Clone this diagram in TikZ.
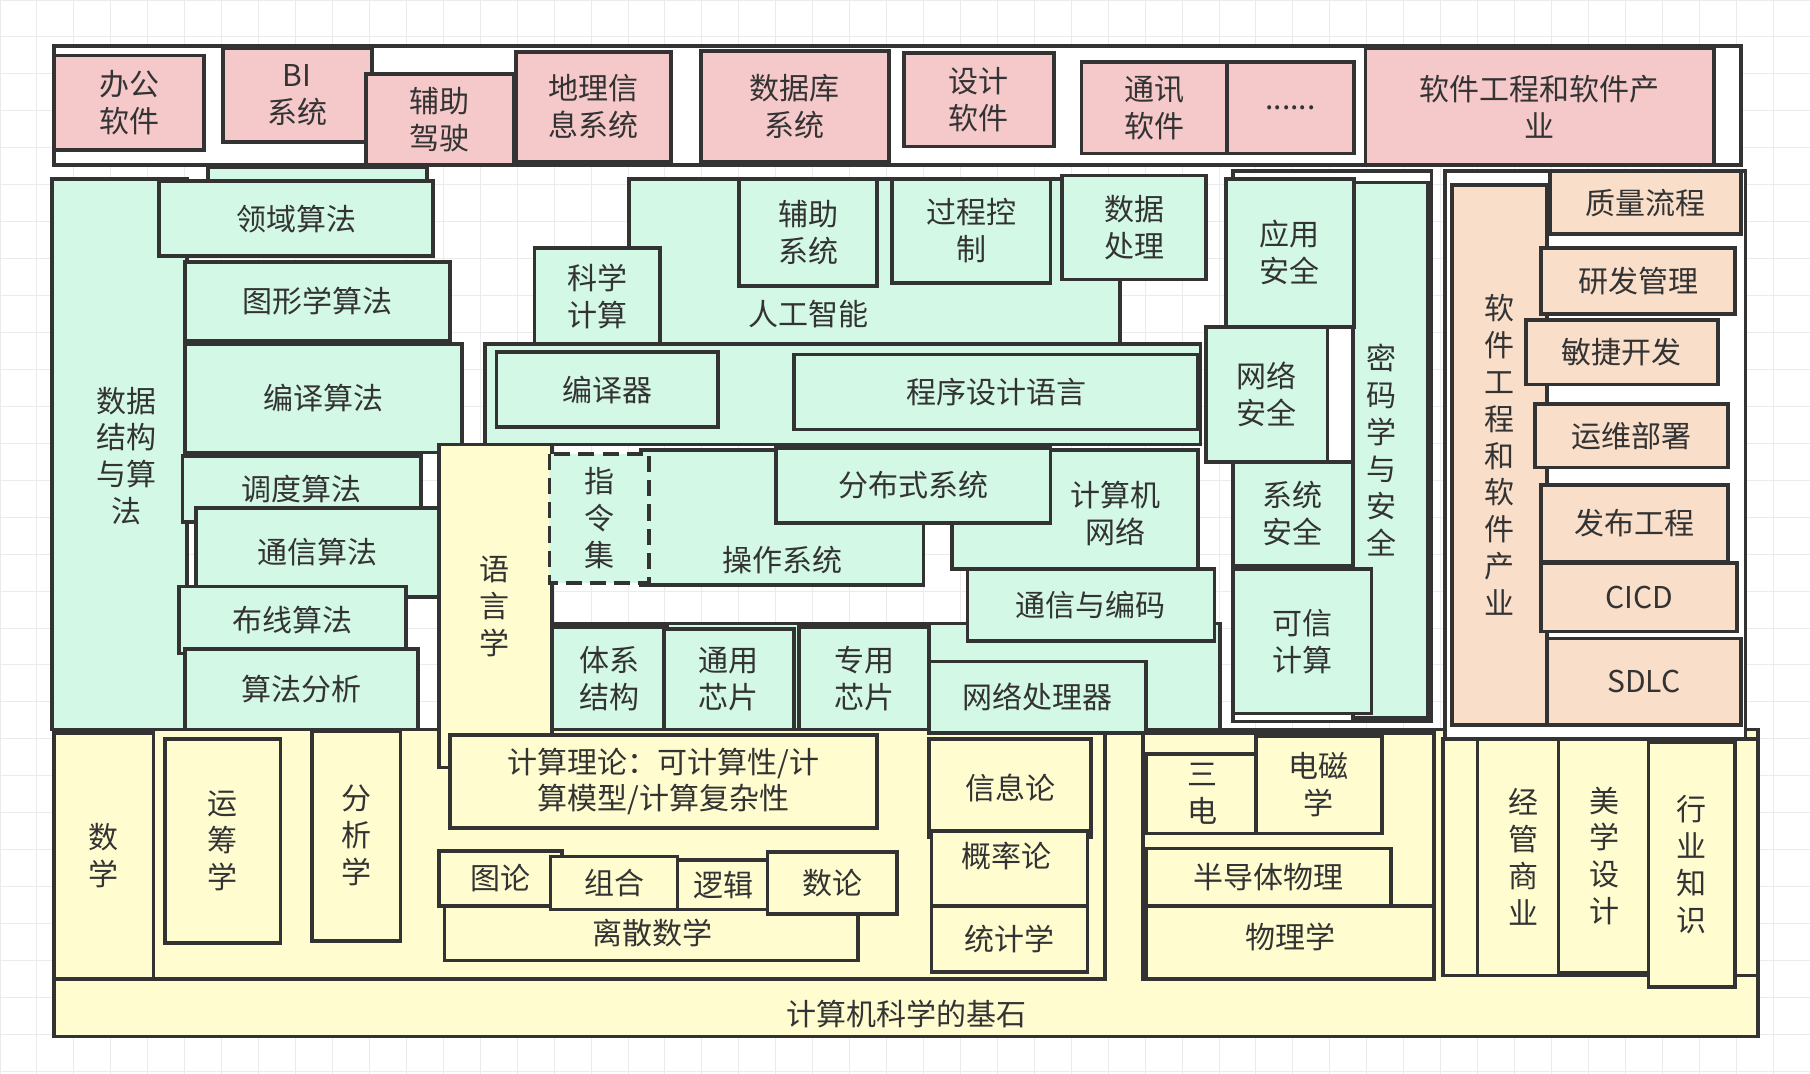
\documentclass[tikz,border=0pt]{standalone}
\usepackage{fontspec}
\newfontfamily\cjk{Noto Sans CJK SC}
\definecolor{pk}{HTML}{F5C8CA}
\definecolor{gr}{HTML}{D3F8E6}
\definecolor{yl}{HTML}{FFFDD0}
\definecolor{pc}{HTML}{F9DEC9}
\definecolor{ln}{HTML}{333333}
\definecolor{gd}{HTML}{EBEBEB}
\tikzset{box/.style={draw=ln,line width=3.2pt},
 lbl/.style={align=center,font=\cjk\fontsize{26}{32}\selectfont,text=ln,inner sep=0pt}}
\newcommand\bx[7]{\draw[box,fill=#6] (#2,#3) rectangle node[lbl] (#1) {#7} (#4,#5);}
\newcommand\bxt[9]{\draw[box,fill=#6] (#2,#3) rectangle (#4,#5); \node[lbl] (#1) at (#8,#9) {#7};}
\begin{document}
\begin{tikzpicture}[x=1pt,y=-1pt]
\useasboundingbox (0,0) rectangle (1568,930);
\fill[white] (0,0) rectangle (1568,930);
\foreach \i in {0,32,...,1568} \draw[gd,line width=0.8pt] (\i,0)--(\i,930);
\foreach \i in {0,32,...,930} \draw[gd,line width=0.8pt] (0,\i)--(1568,\i);
% top row
\bx{topf}{47}{40}{1508}{143}{white}{}
\bx{bg}{47}{48}{177}{130}{pk}{办公\\软件}
\bx{bi}{193}{42}{322}{123}{pk}{BI\\系统}
\bx{fz}{317}{64}{445}{143}{pk}{辅助\\驾驶}
\bx{dl}{447}{45}{581}{140}{pk}{地理信\\息系统}
\bx{sjk}{607}{44}{770}{140}{pk}{数据库\\系统}
\bx{sj}{783}{46}{913}{127}{pk}{设计\\软件}
\bx{tx}{937}{54}{1063}{133}{pk}{通讯\\软件}
\bx{dots}{1063}{54}{1173}{133}{pk}{......}
\bx{rjgc}{1183}{42}{1485}{143}{pk}{软件工程和软件产\\业}
% bottom
\bxt{jishi}{47}{632}{1523}{898}{yl}{计算机科学的基石}{785}{878}
\bx{shuxue}{47}{635}{133}{848}{yl}{数\\学}
\bx{mframe}{133}{632}{957}{848}{yl}{}
\bx{ycx}{143}{640}{243}{817}{yl}{运\\筹\\学}
\bx{fxx}{270}{633}{347}{815}{yl}{分\\析\\学}
\bxt{lsx}{385}{780}{743}{832}{yl}{离散数学}{565}{808}
\bx{tl}{380}{737}{487}{785}{yl}{图论}
\bx{zh}{477}{742}{587}{788}{yl}{组合}
\bx{lj}{587}{745}{667}{788}{yl}{逻辑}
\bx{sl}{665}{738}{777}{792}{yl}{数论}
\bx{xxl}{805}{640}{945}{725}{yl}{信息论}
\bxt{gll}{807}{720}{942}{785}{yl}{概率论}{872}{742}
\bx{tjx}{807}{785}{942}{842}{yl}{统计学}
\bx{pframe}{990}{635}{1242}{848}{yl}{}
\bxt{wlx}{993}{785}{1242}{848}{yl}{物理学}{1118}{812}
\bx{bdt}{993}{735}{1205}{785}{yl}{半导体物理}
\bx{sd}{993}{653}{1090}{722}{yl}{三\\电}
\bx{dcx}{1088}{638}{1197}{722}{yl}{电磁\\学}
\bx{rframe}{1250}{640}{1523}{845}{yl}{}
\bx{jg}{1280}{640}{1360}{845}{yl}{经\\管\\商\\业}
\bx{mx}{1350}{640}{1430}{843}{yl}{美\\学\\设\\计}
\bx{hy}{1428}{643}{1503}{855}{yl}{行\\业\\知\\识}
% left algorithms
\bx{strip}{180}{145}{370}{160}{gr}{}
\bxt{sjjg}{45}{155}{162}{632}{gr}{数据\\结构\\与算\\法}{110}{395}
\bx{ly}{138}{157}{375}{222}{gr}{领域算法}
\bx{txx}{160}{227}{390}{295}{gr}{图形学算法}
\bx{by}{160}{298}{400}{392}{gr}{编译算法}
\bx{dd}{158}{395}{365}{452}{gr}{调度算法}
\bx{txs}{170}{440}{380}{517}{gr}{通信算法}
\bx{bx}{155}{508}{352}{566}{gr}{布线算法}
\bx{sf}{160}{562}{362}{632}{gr}{算法分析}
% center
\bxt{ai}{545}{155}{970}{303}{gr}{人工智能}{700}{272}
\bx{kx}{463}{215}{572}{298}{gr}{科学\\计算}
\bx{fzxt}{640}{155}{760}{248}{gr}{辅助\\系统}
\bx{gc}{773}{155}{910}{245}{gr}{过程控\\制}
\bx{sjcl}{920}{152}{1045}{242}{gr}{数据\\处理}
\bx{plbg}{420}{298}{1040}{385}{gr}{}
\bx{byq}{430}{305}{622}{370}{gr}{编译器}
\bx{cx}{688}{307}{1038}{372}{gr}{程序设计语言}
\bx{archbg}{478}{540}{1057}{632}{gr}{}
\bxt{yyx}{380}{385}{478}{665}{yl}{语\\言\\学}{428}{525}
\bx{jsll}{390}{637}{760}{717}{yl}{计算理论：可计算性/计\\算模型/计算复杂性}
\bxt{czxt}{555}{390}{800}{507}{gr}{操作系统}{678}{485}
\draw[box,fill=gr,dashed,dash pattern=on 14pt off 7pt] (476,393) rectangle node[lbl] (zlj) {指\\令\\集} (562,505);
\bxt{jsjwl}{825}{390}{1038}{493}{gr}{计算机\\网络}{966}{445}
\bx{fbs}{672}{388}{910}{453}{gr}{分布式系统}
\bx{txbm}{838}{493}{1052}{555}{gr}{通信与编码}
\bx{txjg}{478}{543}{578}{632}{gr}{体系\\结构}
\bx{ty}{575}{545}{688}{632}{gr}{通用\\芯片}
\bx{zy}{692}{543}{805}{632}{gr}{专用\\芯片}
\bx{wlcl}{805}{573}{993}{635}{gr}{网络处理器}
% security
\bx{secf}{1068}{148}{1240}{625}{white}{}
\bxt{mm}{1172}{158}{1237}{622}{gr}{密\\码\\学\\与\\安\\全}{1197}{390}
\bx{yyaq}{1062}{155}{1173}{283}{gr}{应用\\安全}
\bx{wlaq}{1045}{283}{1150}{400}{gr}{网络\\安全}
\bx{xtaq}{1068}{400}{1172}{490}{gr}{系统\\安全}
\bx{kxjs}{1068}{493}{1188}{618}{gr}{可信\\计算}
% software engineering
\bx{sef}{1252}{148}{1512}{640}{white}{}
\bx{se}{1258}{160}{1340}{628}{pc}{软\\件\\工\\程\\和\\软\\件\\产\\业}
\bx{zl}{1343}{148}{1508}{203}{pc}{质量流程}
\bx{yf}{1335}{215}{1503}{272}{pc}{研发管理}
\bx{mj}{1322}{277}{1488}{333}{pc}{敏捷开发}
\bx{yw}{1330}{350}{1497}{405}{pc}{运维部署}
\bx{fb}{1335}{420}{1497}{487}{pc}{发布工程}
\bx{cicd}{1335}{488}{1505}{547}{pc}{CICD}
\bx{sdlc}{1340}{553}{1508}{628}{pc}{SDLC}
\end{tikzpicture}
\end{document}
